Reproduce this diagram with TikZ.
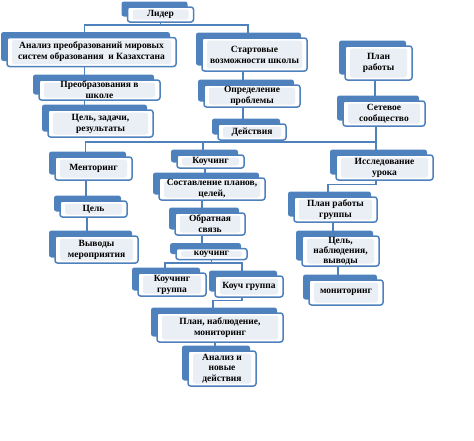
\documentclass[tikz,border=0pt]{standalone}
\usepackage{fontspec}
\setmainfont{Liberation Serif}
\usetikzlibrary{shadows,calc}
\definecolor{bc}{RGB}{79,129,189}
\definecolor{band}{RGB}{234,238,245}
\tikzset{
  bx/.style={draw=bc, line width=1.5pt, rounded corners=2.5pt, fill=white, align=center,
    font=\bfseries\fontsize{9.5}{11}\selectfont, inner sep=0.5pt,
    general shadow={fill=bc, shadow xshift=-6pt, shadow yshift=5.5pt},
    path picture={\fill[band] ([xshift=5pt,yshift=-2.5pt]path picture bounding box.north west) rectangle ([xshift=-5pt,yshift=2.5pt]path picture bounding box.south east);}},
  sz/.style 2 args={minimum width=#1pt, minimum height=#2pt},
  ln/.style={draw=bc, line width=1.4pt}
}
\begin{document}
\begin{tikzpicture}[x=1pt,y=-1pt]
\useasboundingbox (0,0) rectangle (474,440);
% nodes
\node[bx,sz={66}{15}] (lead) at (160.5,14.5) {Лидер};
\node[bx,sz={169}{29}] (an) at (91.5,52) {Анализ преобразований мировых\\систем образования \ и Казахстана};
\node[bx,sz={121}{20}] (pr) at (99.5,90) {Преобразования в\\школе};
\node[bx,sz={105}{27}] (cz) at (100.5,123.5) {Цель, задачи,\\результаты};
\node[bx,sz={105}{33}] (st) at (254.5,54.5) {Стартовые\\возможности школы};
\node[bx,sz={96}{22}] (op) at (252,96) {Определение\\проблемы};
\node[bx,sz={68}{16}] (de) at (252,132) {Действия};
\node[bx,sz={67}{34}] (pl) at (378.5,63) {План\\работы};
\node[bx,sz={82}{25}] (se) at (384,113.5) {Сетевое\\сообщество};
\node[bx,sz={77}{23}] (me) at (93.5,168.5) {Менторинг};
\node[bx,sz={67}{16}] (c1) at (93.5,209) {Цель};
\node[bx,sz={83}{27}] (vy) at (96.5,249.5) {Выводы\\мероприятия};
\node[bx,sz={67}{13}] (k1) at (210.5,161.5) {Коучинг};
\node[bx,sz={106}{22}] (sp) at (212,189) {Составление планов,\\целей,};
\node[bx,sz={70}{22}] (ob) at (210,224) {Обратная\\связь};
\node[bx,sz={71}{11}] (k2) at (211.5,254) {коучинг};
\node[bx,sz={68}{23}] (kg) at (172,284.5) {Коучинг\\группа};
\node[bx,sz={68}{21}] (kr) at (249,286.5) {Коуч группа};
\node[bx,sz={126}{29}] (pn) at (220,327.5) {План, наблюдение,\\мониторинг};
\node[bx,sz={68}{35},font=\bfseries\fontsize{9.5}{10.5}\selectfont] (ai) at (222,368.5) {Анализ и\\новые\\действия};
\node[bx,sz={97}{25}] (is) at (384.5,167.5) {Исследование\\урока};
\node[bx,sz={83}{25}] (pg) at (335.5,209.5) {План работы\\группы};
\node[bx,sz={77}{30},font=\bfseries\fontsize{9.5}{10}\selectfont] (cn) at (340.5,251) {Цель,\\наблюдения,\\выводы};
\node[bx,sz={74}{25}] (mo) at (346,292.5) {мониторинг};
% helper coordinates
\coordinate (b1) at (160.5,25);
\coordinate (b2) at (252,142);
\coordinate (b3) at (211.5,263);
\coordinate (anl) at ([xshift=-7pt]an.south);
\coordinate (anu) at ([xshift=-7pt]an.north);
\coordinate (stu) at ([xshift=-6.5pt]st.north);
\coordinate (stl) at ([xshift=-11.5pt]st.south);
\coordinate (opl) at ([xshift=-9pt]op.south);
\coordinate (pll) at ([xshift=-3.5pt]pl.south);
\coordinate (sel) at ([xshift=-8pt]se.south);
\coordinate (meu) at ([xshift=-8pt]me.north);
\coordinate (mel) at ([xshift=-7.5pt]me.south);
\coordinate (c1l) at ([xshift=-6.5pt]c1.south);
\coordinate (k1u) at ([xshift=-7.5pt]k1.north);
\coordinate (k1l) at ([xshift=-5.5pt]k1.south);
\coordinate (spl) at ([xshift=-10pt]sp.south);
\coordinate (obl) at ([xshift=-8pt]ob.south);
\coordinate (kgu) at ([xshift=-7pt]kg.north);
\coordinate (kru) at ([xshift=-7pt]kr.north);
\coordinate (krl) at ([xshift=-7pt]kr.south);
\coordinate (pnu) at ([xshift=-7pt]pn.north);
\coordinate (pnl) at ([xshift=-5pt]pn.south);
\coordinate (isl) at ([xshift=-8.5pt]is.south);
\coordinate (pgu) at ([xshift=-7.5pt]pg.north);
\coordinate (pgl) at ([xshift=-2.5pt]pg.south);
\coordinate (cnl) at ([xshift=-2.5pt]cn.south);
% connectors
\begin{scope}[on background layer/.style={}]
\draw[ln] (lead.south) -- (b1);
\draw[ln] (anu) |- (b1);
\draw[ln] (stu) |- (b1);
\draw[ln] (anl) -- (anl |- pr.north);
\draw[ln] (anl |- pr.south) -- (anl |- cz.north);
\draw[ln] (stl) -- (stl |- op.north);
\draw[ln] (opl) -- (opl |- de.north);
\draw[ln] (pll) -- (pll |- se.north);
\draw[ln] (de.south) -- (b2);
\draw[ln] (meu) |- (sel |- b2);
\draw[ln] (sel) -- (sel |- is.north);
\draw[ln] (k1u) -- (k1u |- b2);
\draw[ln] (mel) -- (mel |- c1.north);
\draw[ln] (c1l) -- (c1l |- vy.north);
\draw[ln] (k1l) -- (k1l |- sp.north);
\draw[ln] (spl) -- (spl |- ob.north);
\draw[ln] (obl) -- (obl |- k2.north);
\draw[ln] (k2.south) -- (b3);
\draw[ln] (kgu) |- (b3);
\draw[ln] (kru) |- (b3);
\draw[ln] (krl) -- ++(0,3) -| (pnu);
\draw[ln] (pnl) -- (pnl |- ai.north);
\draw[ln] (isl) -- ++(0,3.5) -| (pgu);
\draw[ln] (pgl) -- (pgl |- cn.north);
\draw[ln] (cnl) -- (cnl |- mo.north);
\end{scope}
\end{tikzpicture}
\end{document}
